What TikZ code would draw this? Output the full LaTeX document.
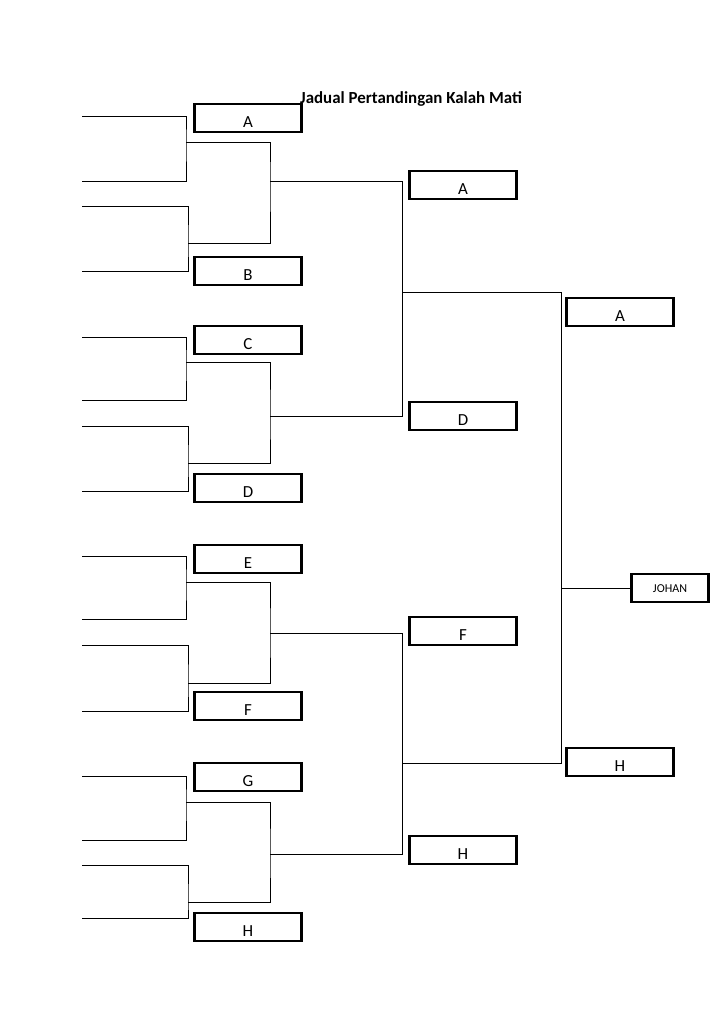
\documentclass[tikz,border=0pt]{standalone}
\usepackage{fontspec}
\setmainfont{Carlito}

\begin{document}
\begin{tikzpicture}[x=0.828pt, y=-0.828pt]
\useasboundingbox (0,0) rectangle (719,1017);
\tikzstyle{box} = [draw, line width=2pt, minimum width=88.6pt, minimum height=23.2pt, inner sep=0pt, text height=15.8pt, text depth=0pt, font=\fontsize{14}{16}\selectfont];
\tikzstyle{final} = [box, minimum width=63.8pt, text height=7pt, font=\fontsize{10}{12}\selectfont];
\tikzstyle{line} = [line width=0.8pt];
\node[anchor=base, font=\bfseries\fontsize{14}{16}\selectfont] (title) at (411,104) {Jadual Pertandingan Kalah Mati};
\node[box] (a1) at (248,118) {A};
\node[box] (b1) at (248,271) {B};
\node[box] (c1) at (248,340) {C};
\node[box] (d1) at (248,488) {D};
\node[box] (e1) at (248,559) {E};
\node[box] (f1) at (248,706) {F};
\node[box] (g1) at (248,777) {G};
\node[box] (h1) at (248,927) {H};
%
\node[box] (a2) at (463,185) {A};
\node[box] (d2) at (463,416) {D};
\node[box] (f2) at (463,631) {F};
\node[box] (h2) at (463,850) {H};
%
\node[box] (a3) at (620,312) {A};
\node[box] (h3) at (620,762) {H};
\node[final] (johan) at (670,588) {JOHAN};

\coordinate (s1) at (82,116);
\coordinate (s2) at (82,181);
\coordinate (s3) at (82,206);
\coordinate (s4) at (82,271);
\coordinate (v1) at (186,142);
\coordinate (v2) at (188,243);
\coordinate (m1) at (270,181);
\draw[line] (s1) -| (v1) |- (s2);
\draw[line] (s3) -| (v2) |- (s4);
\draw[line] (v1) -| (m1) |- (v2);

\coordinate (s5) at (82,337);
\coordinate (s6) at (82,400);
\coordinate (s7) at (82,426);
\coordinate (s8) at (82,491);
\coordinate (v3) at (186,362);
\coordinate (v4) at (188,463);
\coordinate (m2) at (270,416);
\draw[line] (s5) -| (v3) |- (s6);
\draw[line] (s7) -| (v4) |- (s8);
\draw[line] (v3) -| (m2) |- (v4);

\coordinate (s9) at (82,556);
\coordinate (s10) at (82,619);
\coordinate (s11) at (82,645);
\coordinate (s12) at (82,711);
\coordinate (v5) at (186,582);
\coordinate (v6) at (188,683);
\coordinate (m3) at (270,633);
\draw[line] (s9) -| (v5) |- (s10);
\draw[line] (s11) -| (v6) |- (s12);
\draw[line] (v5) -| (m3) |- (v6);

\coordinate (s13) at (82,776);
\coordinate (s14) at (82,840);
\coordinate (s15) at (82,865);
\coordinate (s16) at (82,918);
\coordinate (v7) at (186,802);
\coordinate (v8) at (188,902);
\coordinate (m4) at (270,854);
\draw[line] (s13) -| (v7) |- (s14);
\draw[line] (s15) -| (v8) |- (s16);
\draw[line] (v7) -| (m4) |- (v8);

\coordinate (w1) at (402,292);
\coordinate (w2) at (402,763);
\coordinate (u) at (561,588);
\draw[line] (m1) -| (w1);
\draw[line] (m2) -| (w1);
\draw[line] (m3) -| (w2);
\draw[line] (m4) -| (w2);
\draw[line] (w1) -| (u);
\draw[line] (w2) -| (u);
\draw[line] (u) -- (johan);
\end{tikzpicture}
\end{document}
